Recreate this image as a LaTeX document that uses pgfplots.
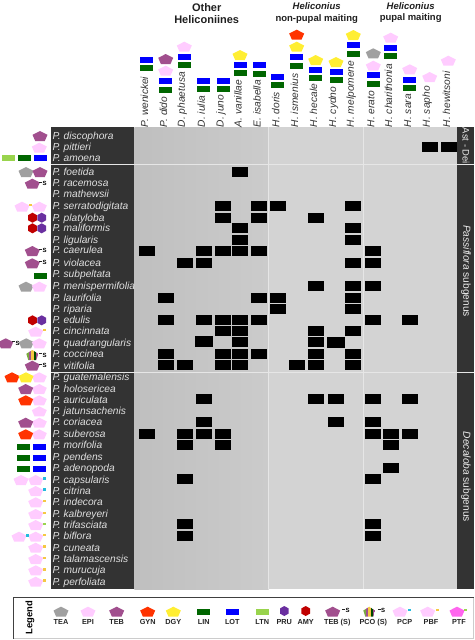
\documentclass[border=0pt]{standalone}
\usepackage{fontspec}
\setmainfont{Liberation Sans}
\usepackage{pgfplots}
\pgfplotsset{compat=1.18}
\definecolor{tea}{HTML}{A0A0A0}
\definecolor{epi}{HTML}{FFCCFF}
\definecolor{teb}{HTML}{A14F8E}
\definecolor{gyn}{HTML}{FF3300}
\definecolor{dgy}{HTML}{FFEE33}
\definecolor{lin}{HTML}{006600}
\definecolor{lot}{HTML}{0000FF}
\definecolor{ltn}{HTML}{99D44D}
\definecolor{pru}{HTML}{6A2FA0}
\definecolor{amy}{HTML}{C00000}
\definecolor{ptf}{HTML}{FF66EE}
\definecolor{dotb}{HTML}{22BBDD}
\definecolor{doty}{HTML}{F5C842}
\definecolor{panel}{HTML}{333333}
\definecolor{bandA}{HTML}{BFBFBF}
\definecolor{bandB}{HTML}{CBCBCB}
\definecolor{bandC}{HTML}{D3D3D3}
\definecolor{sepl}{HTML}{E6E6E6}
\pgfdeclareplotmark{pent}{%
  \pgfpathmoveto{\pgfqpoint{0pt}{5pt}}%
  \pgfpathlineto{\pgfqpoint{7.5pt}{1.2pt}}%
  \pgfpathlineto{\pgfqpoint{4.8pt}{-5pt}}%
  \pgfpathlineto{\pgfqpoint{-4.8pt}{-5pt}}%
  \pgfpathlineto{\pgfqpoint{-7.5pt}{1.2pt}}%
  \pgfpathclose\pgfusepathqfill}
\pgfdeclareplotmark{hexa}{%
  \pgfpathmoveto{\pgfqpoint{0pt}{5pt}}%
  \pgfpathlineto{\pgfqpoint{4.3pt}{2.6pt}}%
  \pgfpathlineto{\pgfqpoint{4.3pt}{-2.6pt}}%
  \pgfpathlineto{\pgfqpoint{0pt}{-5pt}}%
  \pgfpathlineto{\pgfqpoint{-4.3pt}{-2.6pt}}%
  \pgfpathlineto{\pgfqpoint{-4.3pt}{2.6pt}}%
  \pgfpathclose\pgfusepathqfill}
\pgfdeclareplotmark{barm}{\pgfpathrectangle{\pgfqpoint{-6.5pt}{-3pt}}{\pgfqpoint{13pt}{6pt}}\pgfusepathqfill}
\pgfdeclareplotmark{cell}{\pgfpathrectangle{\pgfqpoint{-8pt}{-5pt}}{\pgfqpoint{16pt}{10pt}}\pgfusepathqfill}
\pgfdeclareplotmark{cellw}{\pgfpathrectangle{\pgfqpoint{-9pt}{-5.3pt}}{\pgfqpoint{18pt}{10.6pt}}\pgfusepathqfill}
\pgfdeclareplotmark{dotm}{\pgfpathrectangle{\pgfqpoint{-1.7pt}{-1.2pt}}{\pgfqpoint{3.4pt}{2.4pt}}\pgfusepathqfill}
\pgfdeclareplotmark{sgl}{%
  \pgfpathrectangle{\pgfqpoint{-3.6pt}{0.6pt}}{\pgfqpoint{2.9pt}{1.1pt}}\pgfusepathqfill
  \pgftext[at={\pgfqpoint{1.7pt}{0pt}}]{\fontsize{6}{6}\selectfont\bfseries S}}
\pgfdeclareplotmark{pco}{%
  \begin{pgfscope}%
  \pgfpathmoveto{\pgfqpoint{0pt}{5pt}}%
  \pgfpathlineto{\pgfqpoint{6pt}{1.2pt}}%
  \pgfpathlineto{\pgfqpoint{4pt}{-5pt}}%
  \pgfpathlineto{\pgfqpoint{-4pt}{-5pt}}%
  \pgfpathlineto{\pgfqpoint{-6pt}{1.2pt}}%
  \pgfpathclose\pgfusepath{clip}%
  \pgfsetfillcolor{ltn!80!black}\pgfpathrectangle{\pgfqpoint{-6pt}{-6pt}}{\pgfqpoint{2.4pt}{12pt}}\pgfusepathqfill
  \pgfsetfillcolor{teb}\pgfpathrectangle{\pgfqpoint{-3.6pt}{-6pt}}{\pgfqpoint{2.4pt}{12pt}}\pgfusepathqfill
  \pgfsetfillcolor{doty}\pgfpathrectangle{\pgfqpoint{-1.2pt}{-6pt}}{\pgfqpoint{2.4pt}{12pt}}\pgfusepathqfill
  \pgfsetfillcolor{lin!70!black}\pgfpathrectangle{\pgfqpoint{1.2pt}{-6pt}}{\pgfqpoint{2.4pt}{12pt}}\pgfusepathqfill
  \pgfsetfillcolor{teb}\pgfpathrectangle{\pgfqpoint{3.6pt}{-6pt}}{\pgfqpoint{2.4pt}{12pt}}\pgfusepathqfill
  \end{pgfscope}}
\pgfplotsset{
  base/.style={x=1pt,y=1pt,y dir=reverse,xmin=134.3,xmax=457,ymin=127.3,ymax=589.3,
    at={(134.3pt,-127.3pt)},anchor=north west,clip=false},
  g/.style 2 args={only marks,mark=#1,color=#2,fill=#2,draw=none,mark options={draw=none,fill=#2}},
}
\newcommand{\ptxt}{\fontsize{10.2}{12}\selectfont}
\newcommand{\lgd}[2]{\node[font=\fontsize{7.3}{9}\selectfont\bfseries,text=black!85] at (axis cs:#1,622.3) {#2};}
\begin{document}
\begin{tikzpicture}[x=1pt,y=1pt]
\path[use as bounding box] (0,0) rectangle (474pt,-640pt);
% --- panels and shaded bands
\begin{axis}[base,hide axis]
\addplot[draw=none,fill=panel] coordinates {(50.5,127.3)(134.3,127.3)(134.3,589.3)(50.5,589.3)} --cycle;
\addplot[draw=none,fill=panel] coordinates {(457,127.3)(474,127.3)(474,589.3)(457,589.3)} --cycle;
\addplot[draw=none,left color=bandA,right color=bandB] coordinates {(134.3,127.3)(268.5,127.3)(268.5,589.3)(134.3,589.3)} --cycle;
\addplot[draw=none,fill=bandC] coordinates {(268.5,127.3)(457,127.3)(457,589.3)(268.5,589.3)} --cycle;
\addplot[sepl,line width=0.9pt] coordinates {(268.5,127.3)(268.5,589.3)};
\addplot[sepl,line width=0.9pt] coordinates {(363.3,127.3)(363.3,589.3)};
\addplot[sepl,line width=0.7pt] coordinates {(50.5,164.6)(474,164.6)};
\addplot[sepl,line width=0.7pt] coordinates {(50.5,372.6)(474,372.6)};
\end{axis}
% --- cells, glyphs, labels
\begin{axis}[base,
  axis line style={draw=none},major tick length=0pt,
  xticklabel pos=top,
  xtick={146.7,165.7,184.5,203.5,223.2,240.2,259.2,278,296.8,315.8,335.8,353.6,373.3,390.9,410,429.5,448.8},
  xticklabels={P. wenickei,P. dido,D. phaetusa,D. iulia,D. juno,A. vanillae,E. isabella,H. doris,H. ismenius,H. hecale,H. cydno,H. melpomene,H. erato,H. charithonia,H. sara,H. sapho,H. hewitsoni},
  x tick label style={rotate=90,anchor=west,font=\ptxt\itshape,text=black!80,inner sep=0pt,xshift=0pt,yshift=2.3pt},
  xticklabel shift=0pt,
  ytick={136,147,157.7,172,183.3,193.7,206,217.7,228.3,239.7,250.3,262.7,274.3,286,297.7,309.3,320,331.3,342.7,354.3,365.7,377.3,388.7,399.7,411.3,422.3,434,445.3,456.7,468.3,479.7,491,502.3,514,525,536.3,547.7,559,570.3,581.7},
  yticklabels={P. discophora,P. pittieri,P. amoena,P. foetida,P. racemosa,P. mathewsii,P. serratodigitata,P. platyloba,P. maliformis,P. ligularis,P. caerulea,P. violacea,P. subpeltata,P. menispermifolia,P. laurifolia,P. riparia,P. edulis,P. cincinnata,P. quadrangularis,P. coccinea,P. vitifolia,P. guatemalensis,P. holosericea,P. auriculata,P. jatunsachenis,P. coriacea,P. suberosa,P. morifolia,P. pendens,P. adenopoda,P. capsularis,P. citrina,P. indecora,P. kalbreyeri,P. trifasciata,P. biflora,P. cuneata,P. talamascensis,P. murucuja,P. perfoliata},
  y tick label style={anchor=base west,font=\ptxt\itshape,text=black!12,inner sep=0pt,xshift=-82pt,yshift=-3.4pt},
  yticklabel shift=0pt,
]
% interaction cells
\addplot[g={cell}{black}] coordinates {
(429.8,147)(448.7,147)
(240.3,172)
(223,206)(259.2,206)(278.3,206)(353.3,206)
(223,217.5)(259.2,217.5)(315.7,217.5)
(240.3,228)(353.3,228)
(240.3,239.5)(353.3,239.5)
(146.7,251)(203.7,251)(223,251)(240.3,251)(259.2,251)(373.3,251)
(184.7,262.5)(203.7,262.5)(353.3,262.5)(373.3,262.5)
(315.7,285.7)(353.3,285.7)(373.3,285.7)
(165.7,298.3)(259.2,298.3)(278.3,298.3)(353.3,298.3)
(278.3,309)(353.3,309)
(165.7,320)(203.7,320)(223,320)(240.3,320)(259.2,320)(373.3,320)(410,320)
(223,331)(240.3,331)(315.7,331)(353.3,331)
(240.3,342.3)(315.7,342.3)
(165.7,354)(223,354)(240.3,354)(259.2,354)(315.7,354)(353.3,354)
(165.7,365.3)(184.7,365.3)(223,365.3)(240.3,365.3)(297,365.3)(315.7,365.3)(353.3,365.3)
(203.7,399.3)(315.7,399.3)(335.7,399.3)(373.3,399.3)(410,399.3)
(203.7,422.3)(335.7,422.3)(373.3,422.3)
(146.7,433.7)(184.7,433.7)(203.7,433.7)(223,433.7)(373.3,433.7)(390.7,433.7)(410,433.7)
(184.7,444.7)(223,444.7)(390.7,444.7)
(390.7,467.7)
(184.7,479)(373.3,479)
(184.7,524.3)(373.3,524.3)
(184.7,535.7)(373.3,535.7)
};
\addplot[g={cellw}{black}] coordinates {(203.7,341.7)(335.7,342.3)};
% glyphs: TEA
\addplot[g={pent}{tea}] coordinates {(373.3,53.3)(26,172)(26,286.7)(26.3,343.3)(61,611.7)};
% EPI
\addplot[g={pent}{epi}] coordinates {(165.7,70.7)(184.3,46.7)(373.3,65.7)(390.7,37.7)(409.7,69.3)(429.7,77)(448.3,60.7)
(39.3,147.7)(22,206.7)(39.3,206.7)(39.3,286.7)(35.7,331.7)(39.3,343.3)(39.3,377.3)(39.3,389)(39.3,400.3)(39.3,411.3)(39.3,422.7)(39.3,434.3)
(21,480)(35.7,480)(35.7,491)(35.7,502.3)(35.7,514)(35.7,525)(19,536.7)(35.7,536.7)(35.7,547.7)(35.7,559)(35.7,570.3)(35.7,581.7)
(88,611.7)(400,611.7)(427.7,611.7)};
% TEB
\addplot[g={pent}{teb}] coordinates {(165.7,59)(40,136)(40,172)(32.3,183.7)(32.3,251)(32.3,263.3)(5.7,343.3)(32.3,365.7)(25.7,389)(25.7,422.7)(116.7,611.7)(332.7,611.7)};
% GYN
\addplot[g={pent}{gyn}] coordinates {(296.7,34.7)(12,377.3)(25.7,400.3)(25.7,434.3)(147.7,611.7)};
% DGY
\addplot[g={pent}{dgy}] coordinates {(240,55)(296.7,46.7)(315.7,60)(336,62)(353.3,35)(26,377.3)(173.3,611.7)};
% LOT
\addplot[g={barm}{lot}] coordinates {(146.7,59.7)(165.7,81)(184.3,56.7)(203.3,80.7)(223.3,80.7)(240,64.7)(259.3,65.3)(277.7,76.7)(296.7,56.7)(315.7,70)(336,72)(353.3,45.3)(373.3,75.3)(390.7,47.7)(409.7,79.7)
(40,158)(39.7,446.7)(39.7,458.3)(39.7,469.3)(232.3,612)};
% LIN
\addplot[g={barm}{lin}] coordinates {(146.7,68.3)(165.7,89.7)(184.3,65.3)(203.3,89)(223.3,89)(240,72.7)(259.3,73.7)(277.7,85)(296.7,65.7)(315.7,78.3)(336,80.3)(353.3,53.7)(373.3,83.7)(390.7,56)(409.7,88)
(24,158)(40,276)(23.3,446.7)(23.3,458.3)(23.3,469.3)(203.7,612)};
% LTN
\addplot[g={barm}{ltn}] coordinates {(8.7,158)(262.3,612)};
% PRU
\addplot[g={hexa}{pru}] coordinates {(41.7,217.7)(41.7,228.3)(41.7,320.3)(284.3,611)};
% AMY
\addplot[g={hexa}{amy}] coordinates {(32.5,217.7)(32.5,228.3)(32.5,320.3)(305.7,611)};
% PCO
\addplot[only marks,mark=pco] coordinates {(32.3,355)(369.3,611.7)};
% PTF
\addplot[g={pent}{ptf}] coordinates {(457,611.7)};
% S tags
\addplot[g={sgl}{black!85}] coordinates {(43,183.3)(43,250.5)(43,262.8)(16,343)(43,355)(43,365.2)(346,610.5)(381.5,610.5)};
% small dots
\addplot[g={dotm}{doty}] coordinates {(30.3,205)(44.3,330)(44.3,501)(44.3,512.7)(44.3,535)(44.3,546.3)(44.3,558)(44.3,569.3)(44.3,580.3)(437.3,610)};
\addplot[g={dotm}{dotb}] coordinates {(44.3,478.3)(44.3,489.3)(27.3,535.3)(409.3,610)};
\addplot[g={dotm}{ltn}] coordinates {(44.3,523.7)(465.3,610)};
% headings
\node[font=\fontsize{11}{13}\selectfont\bfseries,text=black!88] at (axis cs:206.7,7.3) {Other};
\node[font=\fontsize{11}{13}\selectfont\bfseries,text=black!88] at (axis cs:206.7,19.3) {Heliconiines};
\node[font=\fontsize{9.5}{12}\selectfont\bfseries\itshape,text=black!88] at (axis cs:316.7,6.3) {Heliconius};
\node[font=\fontsize{9.5}{12}\selectfont\bfseries,text=black!88] at (axis cs:316.7,19.3) {non-pupal maiting};
\node[font=\fontsize{9.5}{12}\selectfont\bfseries\itshape,text=black!88] at (axis cs:410.7,5.7) {Heliconius};
\node[font=\fontsize{9.5}{12}\selectfont\bfseries,text=black!88] at (axis cs:410.7,18.3) {pupal maiting};
% right panel
\node[rotate=-90,font=\fontsize{9.4}{11}\selectfont,text=black!8] at (axis cs:466,146) {Ast - Dei};
\node[rotate=-90,font=\ptxt,text=black!8] at (axis cs:466,271) {\textit{Passiflora} subgenus};
\node[rotate=-90,font=\ptxt,text=black!8] at (axis cs:466,477) {\textit{Decaloba} subgenus};
% legend frame
\addplot[black!20,line width=1.2pt] coordinates {(473.3,597)(473.3,638.5)(13,638.5)};
\addplot[black!75,line width=1pt] coordinates {(13,638.5)(13,597)(473.5,597)};
\node[rotate=90,font=\fontsize{9.4}{11}\selectfont\bfseries] at (axis cs:30,617.3) {Legend};
\lgd{61}{TEA}\lgd{88}{EPI}\lgd{116.7}{TEB}\lgd{147.7}{GYN}\lgd{173.3}{DGY}\lgd{203.7}{LIN}\lgd{232.3}{LOT}\lgd{262.3}{LTN}\lgd{284.3}{PRU}\lgd{305.7}{AMY}\lgd{337.3}{TEB (S)}\lgd{373.3}{PCO (S)}\lgd{404.7}{PCP}\lgd{431}{PBF}\lgd{459}{PTF}
\end{axis}
\end{tikzpicture}
\end{document}
